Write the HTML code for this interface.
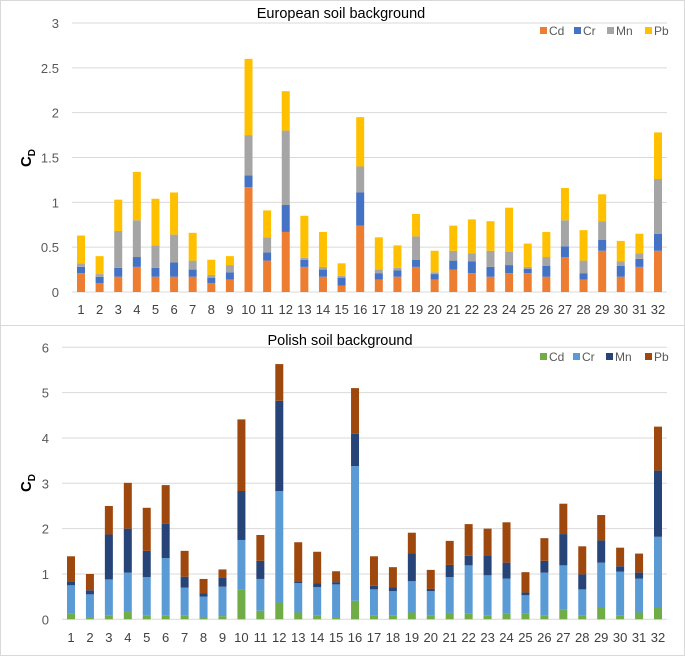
<!DOCTYPE html>
<html><head><meta charset="utf-8">
<style>
html,body{margin:0;padding:0;background:#fff;}
svg{display:block;font-family:"Liberation Sans",sans-serif;}
</style></head>
<body>
<svg id="chart" width="685" height="656" viewBox="0 0 685 656" xmlns="http://www.w3.org/2000/svg">
<rect x="0.5" y="0.5" width="684" height="655" fill="#fff" stroke="#d9d9d9"/>
<line x1="0" y1="325.5" x2="685" y2="325.5" stroke="#d9d9d9"/>
</svg>
<script>
const categories = ["1","2","3","4","5","6","7","8","9","10","11","12","13","14","15","16","17","18","19","20","21","22","23","24","25","26","27","28","29","30","31","32"];
const seriesNames = ["Cd","Cr","Mn","Pb"];
const euCd = [.21,.10,.17,.28,.17,.17,.17,.10,.14,1.17,.35,.67,.28,.17,.07,.74,.14,.17,.28,.14,.25,.21,.17,.21,.21,.17,.39,.14,.46,.17,.28,.46];
const euCr = [.07,.07,.10,.11,.10,.16,.08,.06,.08,.13,.09,.30,.08,.08,.09,.37,.07,.07,.08,.06,.10,.13,.11,.09,.05,.12,.12,.07,.12,.12,.09,.19];
const euMn = [.04,.03,.41,.41,.25,.31,.10,.03,.08,.45,.17,.83,.02,.03,.02,.29,.04,.03,.26,.02,.11,.09,.18,.15,.02,.10,.29,.14,.21,.05,.06,.61];
const euPb = [.31,.20,.35,.54,.52,.47,.31,.17,.10,.85,.30,.44,.47,.39,.14,.55,.36,.25,.25,.24,.28,.38,.33,.49,.26,.28,.36,.34,.30,.23,.22,.52];
const plCd = [.12,.05,.09,.16,.09,.09,.09,.05,.07,.66,.19,.37,.15,.09,.04,.41,.08,.09,.15,.08,.14,.12,.09,.12,.12,.09,.21,.08,.26,.09,.15,.26];
const plCr = [.63,.50,.79,.87,.84,1.26,.61,.45,.65,1.09,.70,2.46,.65,.62,.73,2.97,.58,.53,.69,.54,.79,1.07,.88,.78,.41,.94,.98,.58,.99,.96,.75,1.56];
const plMn = [.09,.09,.99,.97,.58,.76,.24,.07,.20,1.08,.40,1.99,.04,.08,.05,.71,.08,.09,.62,.05,.27,.21,.44,.35,.06,.26,.69,.33,.49,.12,.13,1.46];
const plPb = [.55,.36,.63,1.01,.95,.85,.57,.32,.18,1.58,.57,.81,.86,.70,.24,1.01,.65,.44,.45,.42,.53,.70,.59,.89,.45,.50,.67,.62,.56,.41,.42,.97];
const euTicks = ["0","0.5","1","1.5","2","2.5","3"];
const plTicks = ["0","1","2","3","4","5","6"];

const NS="http://www.w3.org/2000/svg";
const svg=document.getElementById('chart');
function mk(tag,attrs,parent){const e=document.createElementNS(NS,tag);for(const k in attrs)e.setAttribute(k,attrs[k]);(parent||svg).appendChild(e);return e;}

function panel(cfg){
  const g=mk('g',{});
  
  
  const yScale=v=>cfg.y0-(v/cfg.max)*(cfg.y0-cfg.yTop);
  const xScale=i=>cfg.x1+i*(cfg.x32-cfg.x1)/(categories.length-1);
  cfg.ticks.forEach(t=>{
    const v=parseFloat(t);const y=yScale(v);
    const l=mk('line',{x1:cfg.gx0,x2:cfg.gx1,y1:y,y2:y,stroke:'#d9d9d9','stroke-width':1},g);
    
    
    const tx=mk('text',{x:cfg.tickX,y:y+5,'text-anchor':'end','font-size':13,fill:'#595959'},g);
    tx.textContent=t;
    
    
  });
  categories.forEach((c,i)=>{
    const x=xScale(i);let acc=0;
    cfg.series.forEach((s,k)=>{
      const v=s[i];const yA=yScale(acc),yB=yScale(acc+v);acc+=v;
      const r=mk('rect',{x:x-4,y:yB,width:8,height:Math.max(0,yA-yB),fill:cfg.colors[k]},g);
      
      
    });
    const tx=mk('text',{x:x,y:cfg.labelY,'text-anchor':'middle','font-size':13,fill:'#404040'},g);
    tx.textContent=c;
    
    
  });
  const title=mk('text',{x:cfg.titleX,y:cfg.titleY,'text-anchor':'middle','font-size':14.5,fill:'#000'},g);
  title.textContent=cfg.title;
  
  
  const yl=mk('text',{transform:'translate('+cfg.ylX+','+cfg.ylY+') rotate(-90)','text-anchor':'middle','font-size':15,'font-weight':'bold',fill:'#000'},g);
  yl.innerHTML='C<tspan font-size="10" dy="4">D</tspan>';
  
  
  cfg.legXs.forEach((lx,k)=>{
    const n=seriesNames[k];
    const r=mk('rect',{x:lx,y:cfg.legY-8,width:7,height:7,fill:cfg.colors[k]},g);
    
    
    const t=mk('text',{x:lx+9,y:cfg.legY,'font-size':12,fill:'#595959'},g);
    t.textContent=n;
    
    
  });
}
panel({name:'european-soil-chart',title:'European soil background',titleX:341,titleY:18,
  y0:292,yTop:23,max:3,ticks:euTicks,x1:81,x32:658,gx0:72,gx1:667,tickX:59,labelY:314,
  ylX:31,ylY:158,legXs:[540,574,607,645],legY:35,series:[euCd,euCr,euMn,euPb],
  colors:['#ED7D31','#4472C4','#A5A5A5','#FFC000']});
panel({name:'polish-soil-chart',title:'Polish soil background',titleX:340,titleY:345,
  y0:619.3,yTop:347.3,max:6,ticks:plTicks,x1:71,x32:658,gx0:62,gx1:667,tickX:49,labelY:642,
  ylX:31,ylY:483,legXs:[540,573,606,645],legY:361,series:[plCd,plCr,plMn,plPb],
  colors:['#70AD47','#5B9BD5','#264478','#9E480E']});
</script>
</body></html>
